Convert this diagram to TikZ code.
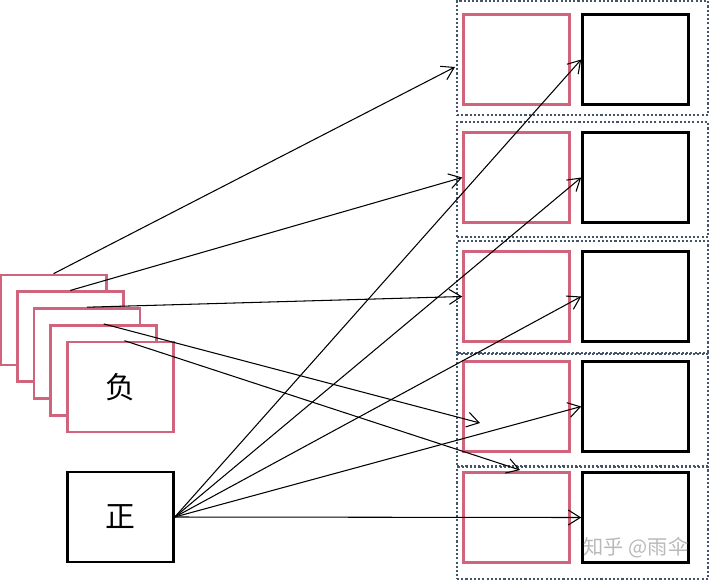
\documentclass[tikz,border=0pt]{standalone}
\usepackage{fontspec}
\newfontfamily\cjk{Noto Sans CJK SC}
\usepackage{xcolor}
\usepackage{tikz}
\usetikzlibrary{arrows.meta, positioning, calc}

\definecolor{negpink}{RGB}{208,100,125}
\definecolor{groupgray}{RGB}{68,84,106}
\definecolor{markgray}{RGB}{185,185,185}

\begin{document}
\begin{tikzpicture}[
            x=0.02cm, y=-0.02cm,
            box/.style={rectangle, minimum width=2.12cm, minimum height=1.8cm, line width=1.5pt, fill=white, inner sep=0pt},
            neg box/.style={box, draw=negpink},
            pos box/.style={box, draw=black},
            group/.style={rectangle, draw=groupgray, line width=1.2pt, dash pattern=on 1.2pt off 1.2pt, inner sep=0pt, minimum width=5.02cm},
            link/.style={black, line width=0.6pt, -{Straight Barb[length=2.4mm, width=3mm]}},
            word/.style={font=\cjk\fontsize{17}{20}\selectfont}
        ]
        \useasboundingbox (0,0) rectangle (710,582);

        % Groups on the right
        \foreach \i/\top/\bot in {1/1/115, 2/122/237, 3/241/354, 4/353/466, 5/467/579}
            \node[group, minimum height={(\bot-\top)*0.02cm}] (g\i) at (582.5,{(\top+\bot)/2}) {};

        % Pairs inside the groups
        \foreach \i/\y in {1/59.5, 2/177.5, 3/296.5, 4/406.5, 5/517.5} {
            \node[neg box] (p\i) at (516.5,\y) {};
            \node[pos box] (b\i) at (635.5,\y) {};
        }

        % Stack of negatives
        \foreach \i in {1,...,5}
            \node[neg box] (n\i) at ({53.5+16.75*(\i-1)},{320+16.75*(\i-1)}) {};
        \node[word] at (n5) {负};

        % Positive
        \node[pos box, word] (z) at (120.5,517) {正};

        % Free ends of the negative arrows
        \coordinate (e1) at (455,67);
        \coordinate (e4) at (480,423);
        \coordinate (e5) at (520,470);

        % Connections negatives -> groups
        \draw[link] (n1.north) -- (e1);
        \draw[link] (n2.north) -- (p2.west);
        \draw[link] (n3.north) -- (p3.west);
        \draw[link] (n4.north) -- (e4);
        \draw[link] ([xshift=0.08cm]n5.north) -- (e5);

        % Connections positive -> groups
        \foreach \i in {1,...,5}
            \draw[link] (z.east) -- (b\i.west);

        % Watermark
        \node[font=\cjk\fontsize{11.5}{14}\selectfont, text=markgray] (mark) at (636,548) {知乎 @雨伞};
        \end{tikzpicture}
\end{document}
